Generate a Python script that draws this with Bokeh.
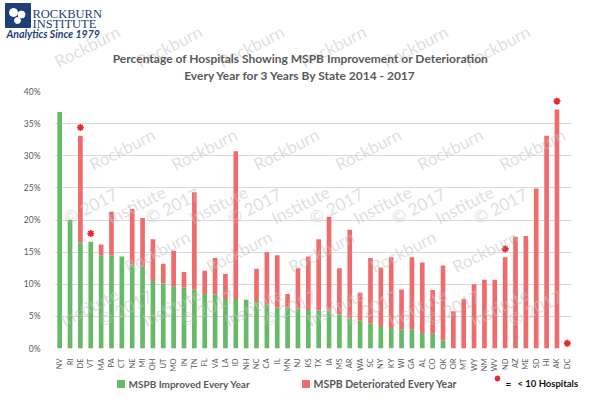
from math import cos, pi, radians, sin

from bokeh.core.properties import value
from bokeh.embed import file_html
from bokeh.layouts import column, row
from bokeh.models import FixedTicker, Label
from bokeh.plotting import figure
from bokeh.resources import INLINE

states = ["NV", "RI", "DE", "VT", "MA", "PA", "CT", "NE", "MI", "OH",
          "UT", "MO", "IN", "TN", "FL", "VA", "LA", "ID", "NH", "NC",
          "CA", "IL", "MN", "NJ", "KS", "TX", "IA", "MS", "AR", "WA",
          "SC", "NY", "KY", "WI", "GA", "AL", "CO", "OK", "OR", "MT",
          "WY", "NM", "WV", "ND", "AZ", "ME", "SD", "HI", "AK", "DC"]
improved = [36.8, 20.0, 16.5, 16.6, 14.5, 14.5, 14.3, 13.1, 12.8, 10.5,
            10.1, 9.6, 9.5, 9.2, 8.5, 8.4, 7.7, 7.7, 7.6, 7.4,
            6.8, 6.4, 6.4, 6.2, 6.0, 5.9, 5.9, 5.3, 4.7, 4.3,
            3.9, 3.5, 3.2, 3.0, 3.0, 2.4, 2.3, 1.3, 0.0, 0.0,
            0.0, 0.0, 0.0, 0.0, 0.0, 0.0, 0.0, 0.0, 0.0, 0.0]
deteriorated = [0.0, 0.0, 16.6, 0.0, 1.7, 6.8, 0.0, 8.6, 7.5, 6.5,
                3.1, 5.6, 2.4, 15.1, 3.6, 5.7, 3.9, 23.0, 0.0, 5.0,
                8.2, 8.1, 2.1, 6.3, 8.3, 11.1, 14.6, 7.2, 13.8, 4.4,
                10.2, 9.1, 11.0, 6.2, 11.2, 11.0, 6.8, 11.6, 5.8, 7.7,
                10.0, 10.7, 10.7, 14.2, 17.4, 17.5, 24.9, 33.1, 37.2, 0.0]
# states with fewer than 10 hospitals
small_states = ["DE", "VT", "ND", "AK", "DC"]
y_ticks = [0, 5, 10, 15, 20, 25, 30, 35, 40]

series_names = ["MSPB Improved Every Year", "MSPB Deteriorated Every Year"]
title_lines = ["Percentage of Hospitals Showing MSPB Improvement or Deterioration",
               "Every Year for 3 Years By State 2014 - 2017"]

GREEN = "#66b966"
RED = "#f06b6b"
STAR = "#e8262b"
GREY = "#595959"
NAVY = "#1f3f77"
FONT = "Lato"
W = 600
HEAD_H, MAIN_H, FOOT_H = 86, 288, 29
WM_DEG = 27
# watermark words: text, offset in the repeating cell, rough length in px
WM_WORDS = [("Rockburn", 0, 0, 64), ("Institute", 18, 55, 62),
            ("\u00a9 2017", 56, 55, 50)]


def blank_fig(h):
    f = figure(width=W, height=h, x_range=(0, W), y_range=(0, h),
               output_backend="svg", toolbar_location=None,
               x_axis_location=None, y_axis_location=None, min_border=0)
    f.outline_line_color = None
    f.grid.visible = False
    return f


def watermark(f, to_data, x0, y0, x1, y1):
    # faint diagonal pattern, positions in page pixels
    a = radians(WM_DEG)
    for k in range(-3, 5):
        for j in range(-4, 9):
            bx = 8 + 82 * j + 35 * k
            by = 167 + 105 * k
            for txt, dx, dy, ln in WM_WORDS:
                tx, ty = bx + dx, by + dy
                ex = tx + ln * cos(a) + 7
                ey = ty - ln * sin(a) - 15
                if tx < x0 or ex > x1 or ey < y0 or ty + 4 > y1:
                    continue
                lx, ly = to_data(tx, ty)
                f.add_layout(Label(x=lx, y=ly, text=txt, angle=WM_DEG,
                                   angle_units="deg", text_font=FONT,
                                   text_font_size="17px",
                                   text_color="#c4c4c4", text_alpha=0.55,
                                   text_baseline="alphabetic"))


def put(f, txt, x, y, size, color=GREY, style="normal", font=FONT,
        align="left"):
    f.add_layout(Label(x=x, y=f.height - y, text=txt, text_font=font,
                       text_font_size=size, text_color=color,
                       text_font_style=style, text_align=align,
                       text_baseline="middle"))


# ---- header: logo and title
head = blank_fig(HEAD_H)
watermark(head, lambda x, y: (x, HEAD_H - y), 0, 0, W, HEAD_H)
head.quad(left=5, right=30, top=HEAD_H - 3, bottom=HEAD_H - 27,
          color=NAVY)
head.scatter([13, 21, 17], [HEAD_H - 12, HEAD_H - 14, HEAD_H - 20],
             size=[8, 7, 6], color="white")
put(head, "ROCKBURN", 32, 13, "12.5px", color=NAVY, font="Liberation Serif")
put(head, "INSTITUTE", 32, 23, "12.5px", color=NAVY, font="Liberation Serif")
put(head, "Analytics Since 1979", 6, 33, "10.5px", color=NAVY,
    style="bold italic")
put(head, title_lines[0], 300, 58, "12px", style="bold", align="center")
put(head, title_lines[1], 300, 75, "12px", style="bold", align="center")

# ---- main chart
p = figure(x_range=states, y_range=(0, 40), width=W, height=MAIN_H,
           output_backend="svg", toolbar_location=None,
           min_border_left=54, min_border_right=28,
           min_border_top=5, min_border_bottom=19)
p.outline_line_color = None

p.vbar_stack(["improved", "deteriorated"], x="state", width=0.45,
             color=[GREEN, RED], line_color=None,
             source=dict(state=states, improved=improved,
                         deteriorated=deteriorated))

totals = [a + b for a, b in zip(improved, deteriorated)]
star_y = [totals[states.index(s)] + 1.3 if totals[states.index(s)] > 0 else 0.8
          for s in small_states]
p.scatter(small_states, star_y, marker="asterisk", size=7, line_width=1.7,
          line_color=STAR)

watermark(p, lambda x, y: ((x - 54) / 10.36, (355 - y) / 6.6),
          54, 91, 572, 355)

p.xgrid.grid_line_color = None
p.ygrid.grid_line_color = "#d9d9d9"
p.yaxis.ticker = FixedTicker(ticks=y_ticks)
p.yaxis.major_label_overrides = {t: f"{t}%" for t in y_ticks}
for ax in (p.xaxis, p.yaxis):
    ax.axis_line_color = None
    ax.major_tick_line_color = None
    ax.minor_tick_line_color = None
    ax.major_label_text_color = GREY
    ax.major_label_text_font = FONT
p.yaxis.major_label_text_font_size = "8.5px"
p.xaxis.major_label_text_font_size = "7.5px"
p.xaxis.major_label_orientation = pi / 2
p.xaxis.major_label_standoff = 4
p.yaxis.major_label_standoff = 8

# ---- footer: legend
foot = blank_fig(FOOT_H)
foot.quad(left=[117, 302], right=[124, 309], top=FOOT_H - 6,
          bottom=FOOT_H - 13, color=[GREEN, RED])
put(foot, series_names[0], 128, 9, "10px", style="bold")
put(foot, series_names[1], 313, 9, "10.5px", style="bold")
foot.scatter([497], [FOOT_H - 4], marker="asterisk", size=6, line_width=1.5,
             line_color=STAR)
put(foot, "=", 505, 9, "10px", color="#111111", style="bold")
put(foot, "< 10 Hospitals", 517, 9, "9.5px", color="#111111", style="bold")

# plots wrapped in rows so their frames are not lined up with each other
layout = column(row(head), row(p), row(foot), spacing=0)
open("out.html", "w").write(file_html(layout, INLINE))
